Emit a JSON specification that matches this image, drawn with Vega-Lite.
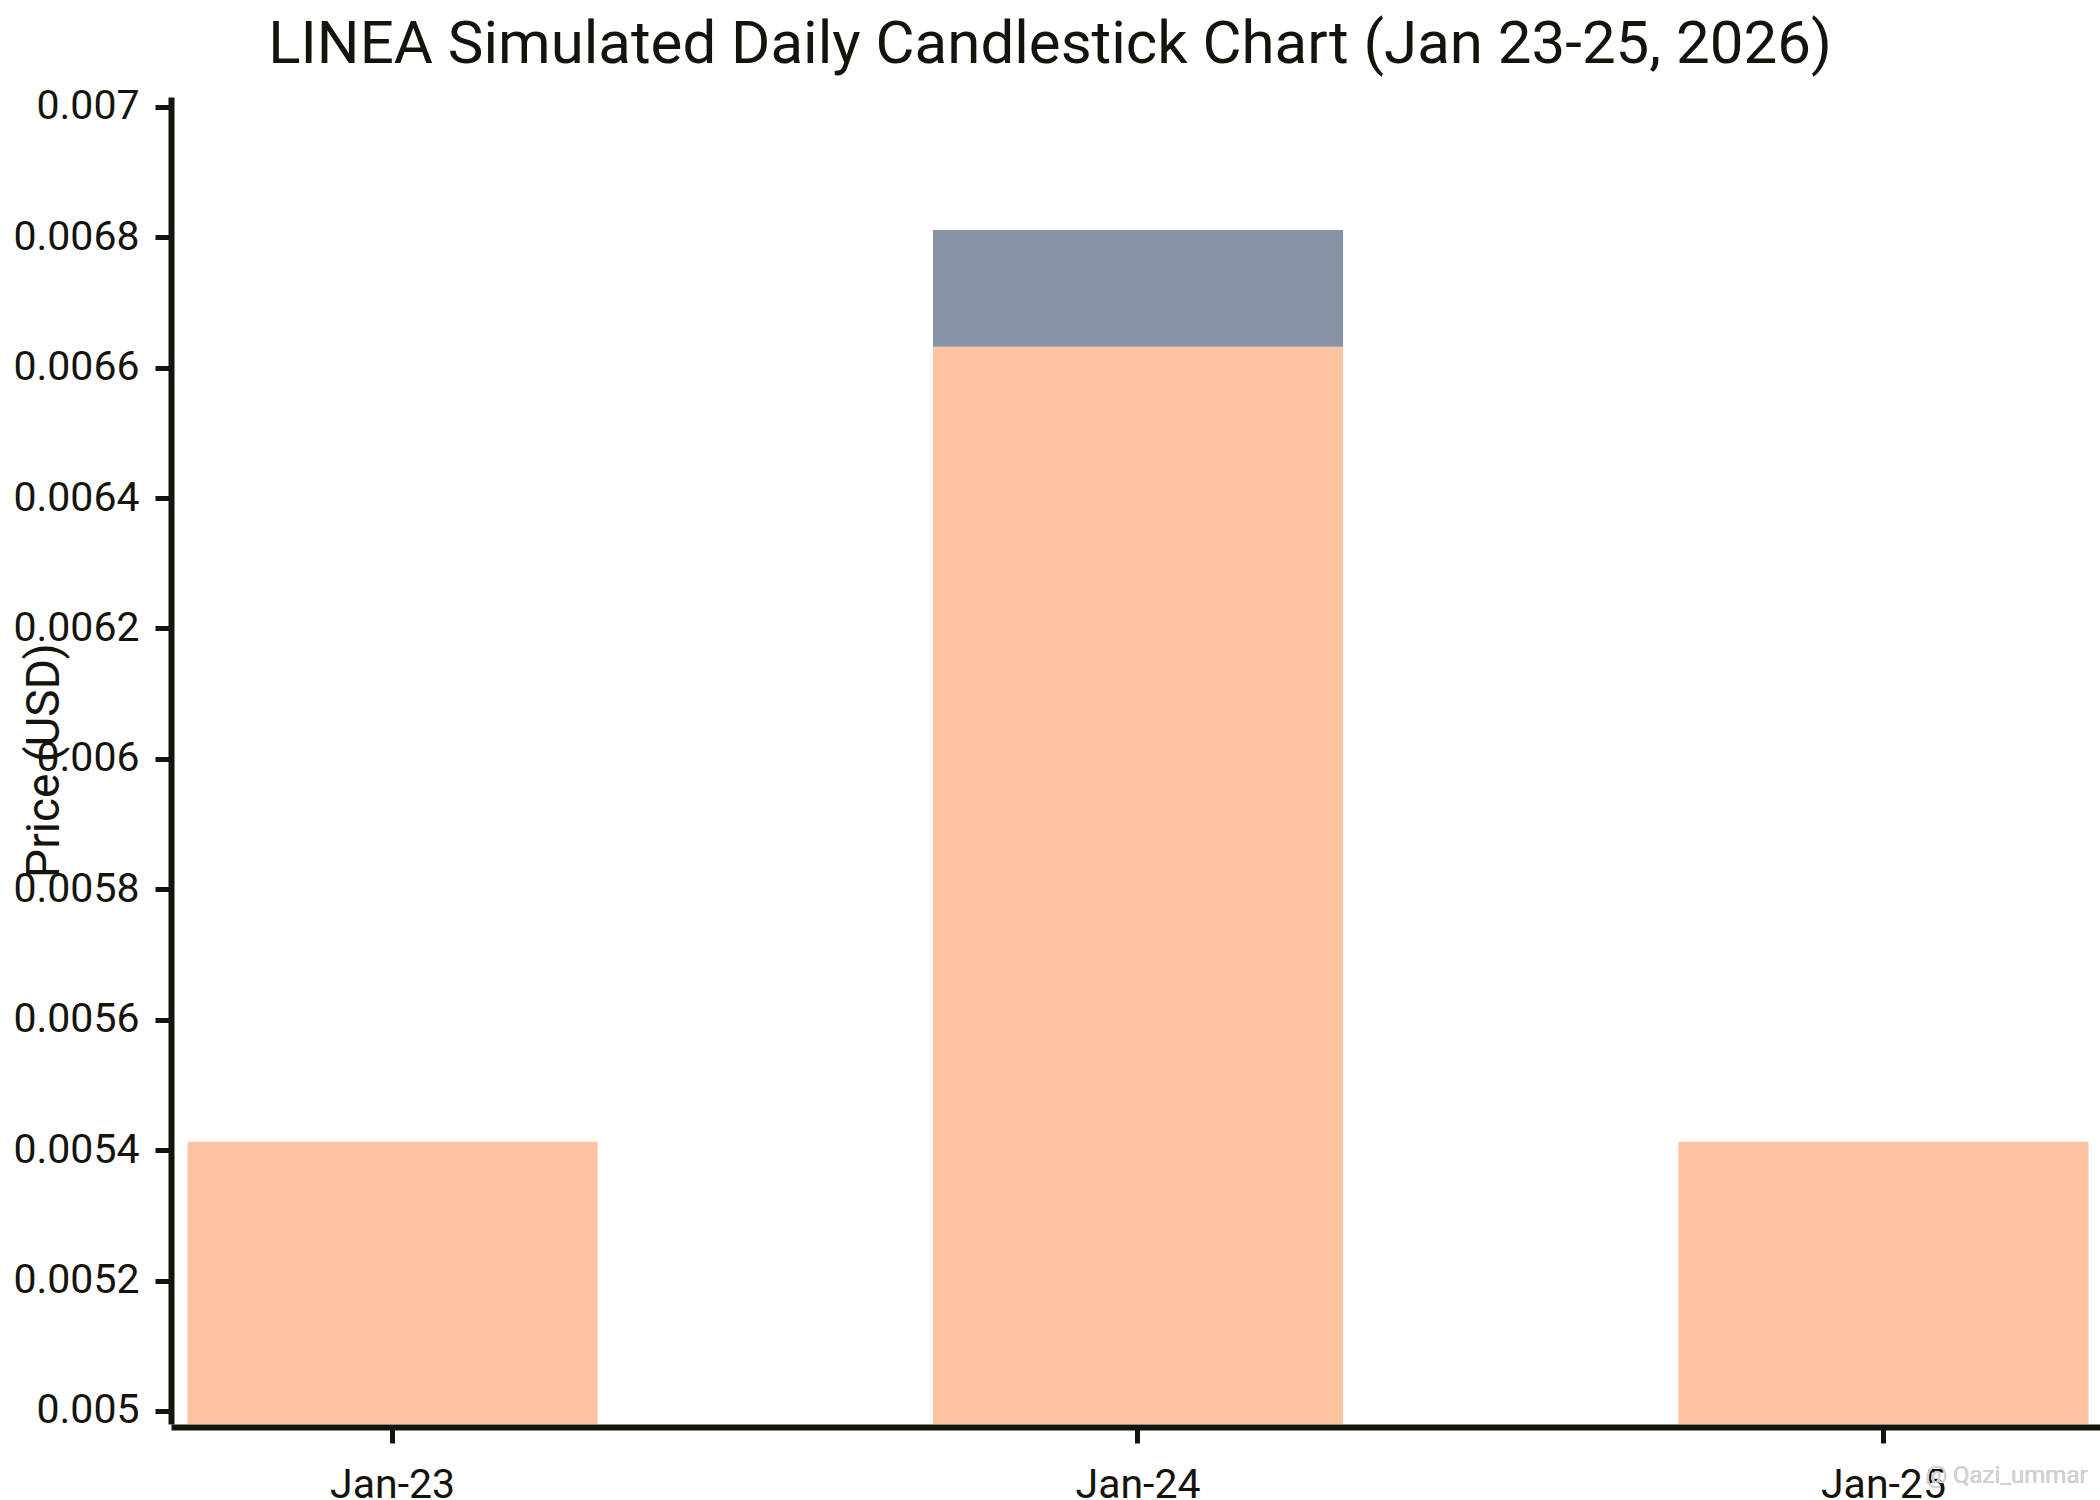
{
  "$schema": "https://vega.github.io/schema/vega-lite/v6.json",
  "width": 1934,
  "height": 1327,
  "autosize": {"type": "none"},
  "padding": {"left": 171, "top": 97, "right": -5, "bottom": 76},
  "background": "white",
  "title": {
    "text": "LINEA Simulated Daily Candlestick Chart (Jan 23-25, 2026)",
    "font": "Roboto",
    "fontSize": 60,
    "fontWeight": "normal",
    "color": "#14140c",
    "anchor": "middle",
    "frame": "group",
    "dx": -88,
    "offset": 10
  },
  "config": {"view": {"stroke": null}},
  "data": {
    "values": [
      {"day": "Jan-23", "part": "body", "lo": 0, "hi": 0.005413},
      {"day": "Jan-24", "part": "body", "lo": 0, "hi": 0.006632},
      {"day": "Jan-24", "part": "upper", "lo": 0.006632, "hi": 0.006811},
      {"day": "Jan-25", "part": "body", "lo": 0, "hi": 0.005413}
    ]
  },
  "layer": [
    {
      "mark": {"type": "bar", "clip": true},
      "encoding": {
        "x": {
          "field": "day",
          "type": "ordinal",
          "sort": ["Jan-23", "Jan-24", "Jan-25"],
          "scale": {"paddingInner": 0.4498, "paddingOuter": 0.0221},
          "axis": {
            "title": null,
            "labelAngle": 0,
            "labelFont": "Roboto",
            "labelFontSize": 41,
            "labelColor": "#14140c",
            "labelPadding": 22,
            "domainColor": "#14140c",
            "domainWidth": 6,
            "tickColor": "#14140c",
            "tickWidth": 5,
            "tickSize": 16,
            "offset": 3
          }
        },
        "y": {
          "field": "lo",
          "type": "quantitative",
          "scale": {"domain": [0.00498, 0.007015], "zero": false, "nice": false},
          "axis": {
            "title": "Price (USD)",
            "values": [0.005, 0.0052, 0.0054, 0.0056, 0.0058, 0.006, 0.0062, 0.0064, 0.0066, 0.0068, 0.007],
            "format": "~f",
            "grid": false,
            "labelFont": "Roboto",
            "labelFontSize": 41,
            "labelColor": "#14140c",
            "labelPadding": 16,
            "domainColor": "#14140c",
            "domainWidth": 6,
            "tickColor": "#14140c",
            "tickWidth": 5,
            "tickSize": 16,
            "titleFont": "Roboto",
            "titleFontSize": 46,
            "titleFontWeight": "normal",
            "titleColor": "#14140c",
            "titleAngle": 270,
            "titleBaseline": "middle",
            "titleAlign": "center",
            "titleX": -127,
            "titleY": 663
          }
        },
        "y2": {"field": "hi"},
        "color": {
          "field": "part",
          "type": "nominal",
          "scale": {"domain": ["body", "upper"], "range": ["#FEC4A1", "#8693A5"]},
          "legend": null
        }
      }
    },
    {
      "mark": {
        "type": "text",
        "text": "@ Qazi_ummar",
        "font": "Roboto",
        "fontSize": 24,
        "color": "#d2d2d2",
        "align": "left",
        "baseline": "alphabetic",
        "dx": 42,
        "dy": 59,
        "clip": false
      },
      "encoding": {
        "x": {"datum": "Jan-25", "type": "ordinal"},
        "y": {"datum": 0.00498, "type": "quantitative"}
      }
    }
  ]
}
